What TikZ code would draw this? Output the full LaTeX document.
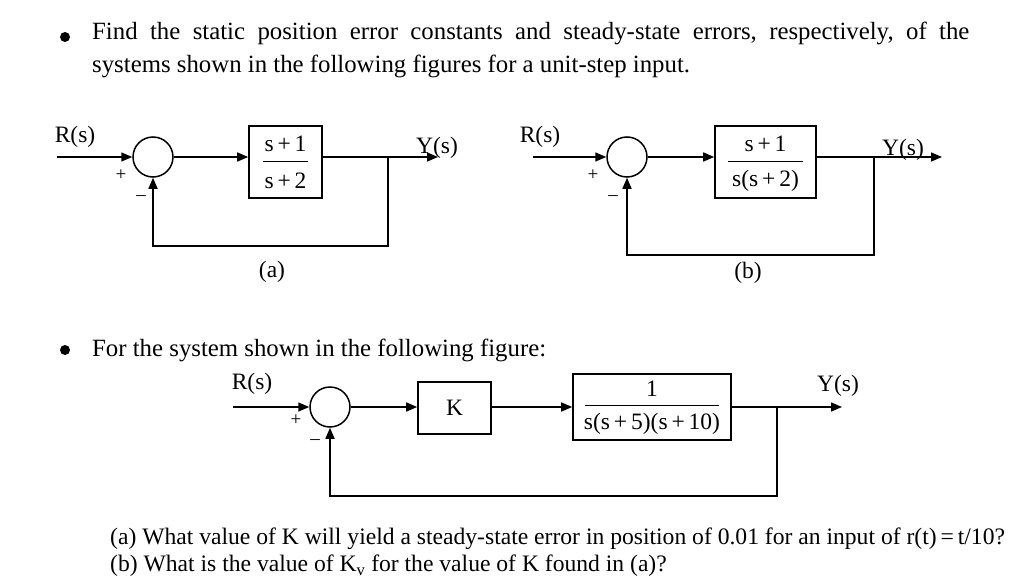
\documentclass[tikz,border=0pt]{standalone}
\usepackage{fontspec}
\setmainfont{Liberation Serif}
\usetikzlibrary{arrows.meta}
\begin{document}
\begin{tikzpicture}[x=1pt,y=-1pt,
  sig/.style={-{Triangle[length=11pt,width=9pt]},line width=1.5pt},
  sumc/.style={circle,draw,line width=1.5pt,minimum size=40pt,inner sep=0pt},
  blk/.style={draw,line width=1.6pt,inner sep=0pt},
  lab/.style={font=\fontsize{23.5}{28}\selectfont,inner sep=0pt},
  sgn/.style={font=\fontsize{19}{22}\selectfont,inner sep=0pt}]
\useasboundingbox (0,0) rectangle (1024,588);
\fill[white] (0,0) rectangle (1024,588);
% bullets
\fill (65,37) circle (5);
\fill (65,350) circle (5);
\node[anchor=west,align=left,font=\fontsize{24.8}{33}\selectfont,inner sep=0pt] (t1) at (92,50)
 {Find\ \ the\ \ static\ \ position\ \ error\ \ constants\ \ and\ \ steady-state\ \ errors,\ \ respectively,\ \ of\ \ the\\systems shown in the following figures for a unit-step input.};
\node[anchor=west,font=\fontsize{24.8}{33}\selectfont,inner sep=0pt] (t2) at (92,350) {For the system shown in the following figure:};
% ---- (a)
\coordinate (ain) at (57,157);
\node[sumc] (as) at (153,157) {};
\node[blk,minimum width=73pt,minimum height=72pt] (ab) at (285.5,162) {};
\node[lab] at (285.5,144) {s\,+\,1};
\draw[line width=1pt] (263,162) -- (308,162);
\node[lab] at (285.5,181) {s\,+\,2};
\coordinate (abr) at (388,157);
\coordinate (aout) at (438,157);
\draw[sig] (ain) -- (as.west);
\draw[sig] (as.east) -- (ab.west|-as);
\draw[sig] (ab.east|-as) -- (aout);
\draw[sig] (abr) -- (388,246) -- (153,246) -- (as.south);
\node[lab] at (75,137) {R(s)};
\node[lab] at (437,148) {Y(s)};
\node[sgn] at (121,175) {+};
\node[sgn] at (141,198) {\textendash};
\node[lab] at (272,272) {(a)};
% ---- (b)
\coordinate (bin) at (533,157);
\node[sumc] (bs) at (627,157) {};
\node[blk,minimum width=101pt,minimum height=72pt] (bb) at (765.5,162) {};
\node[lab] at (765.5,144) {s\,+\,1};
\draw[line width=1pt] (728,162) -- (803,162);
\node[lab] at (765.5,181) {s(s\,+\,2)};
\coordinate (bbr) at (874,157);
\coordinate (bout) at (942,157);
\draw[sig] (bin) -- (bs.west);
\draw[sig] (bs.east) -- (bb.west|-bs);
\draw[sig] (bb.east|-bs) -- (bout);
\draw[sig] (bbr) -- (874,255) -- (627,255) -- (bs.south);
\node[lab] at (540,137) {R(s)};
\node[lab] at (903,150) {Y(s)};
\node[sgn] at (593,175) {+};
\node[sgn] at (613,198) {\textendash};
\node[lab] at (748,273) {(b)};
% ---- bottom
\coordinate (cin) at (233,407);
\node[sumc] (cs) at (330,407) {};
\node[blk,minimum width=73pt,minimum height=52pt] (ck) at (454.5,408) {};
\node[lab] at (454.5,408) {K};
\node[blk,minimum width=158pt,minimum height=66pt] (cg) at (652,407) {};
\node[lab] at (652,389) {1};
\draw[line width=1pt] (585,405) -- (719,405);
\node[lab] at (652,424) {s(s\,+\,5)(s\,+\,10)};
\coordinate (cbr) at (777,407);
\coordinate (cout) at (842,407);
\draw[sig] (cin) -- (cs.west);
\draw[sig] (cs.east) -- (ck.west|-cs);
\draw[sig] (ck.east|-cs) -- (cg.west|-cs);
\draw[sig] (cg.east|-cs) -- (cout);
\draw[sig] (cbr) -- (777,496) -- (330,496) -- (cs.south);
\node[lab] at (252,384) {R(s)};
\node[lab] at (838,386) {Y(s)};
\node[sgn] at (296,420) {+};
\node[sgn] at (315,442) {\textendash};
% questions
\node[anchor=west,align=left,font=\fontsize{23.6}{27}\selectfont,inner sep=0pt] (q) at (110,552)
 {(a) What value of K will yield a steady-state error in position of 0.01 for an input of r(t)\,=\,t/10?\\(b) What is the value of K$_{\mathrm{v}}$ for the value of K found in (a)?};
\end{tikzpicture}
\end{document}
